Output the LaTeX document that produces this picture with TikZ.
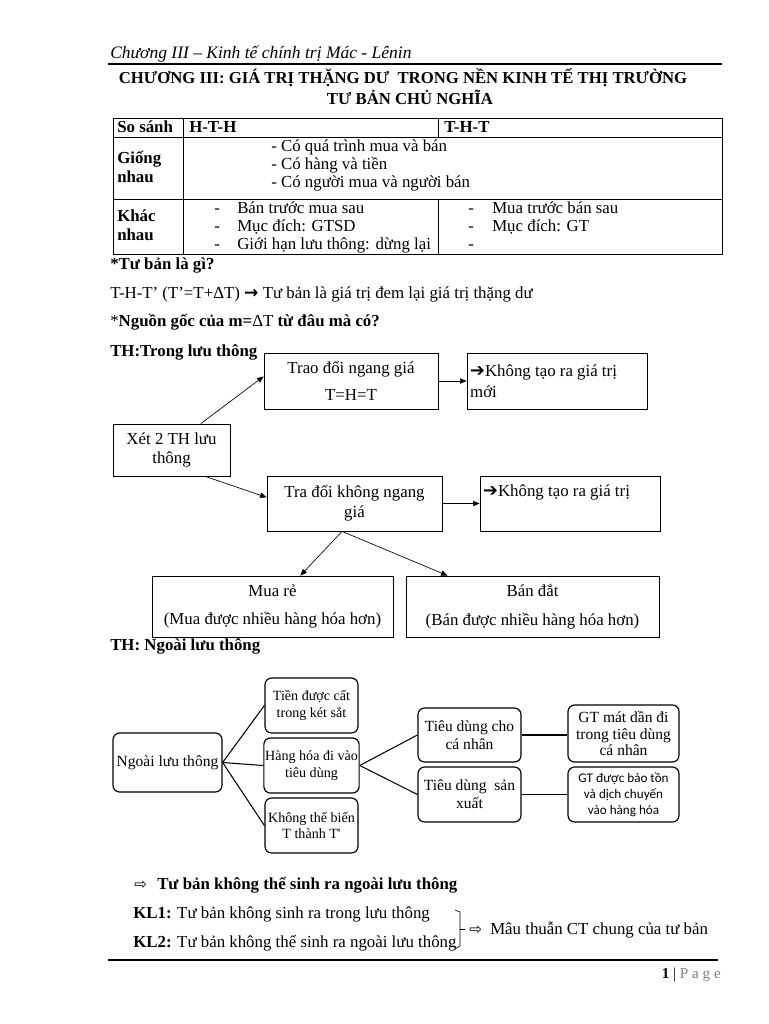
\documentclass[tikz,border=0pt]{standalone}
\usepackage{fontspec}
\setmainfont{Liberation Serif}
\newfontfamily\symfont{DejaVu Sans}
\newfontfamily\calfont{Carlito}
\usetikzlibrary{arrows.meta}
\newcommand\bodyfont{\fontsize{12.8}{15}\selectfont}

\begin{document}
\begin{tikzpicture}[x=0.76pt,y=-0.76pt,>={Triangle[length=5pt,width=4pt]},
  txt/.style={anchor=base west,inner sep=0pt,font=\bodyfont},
  btxt/.style={txt,font=\bodyfont\bfseries},
  bx/.style 2 args={draw,line width=0.6pt,inner sep=2pt,
    minimum width=#1*0.76pt,minimum height=#2*0.76pt,font=\bodyfont},
  rbx/.style 2 args={draw,line width=0.9pt,rounded corners=5pt,inner sep=1pt,
    minimum width=#1*0.76pt,minimum height=#2*0.76pt,align=center,
    font=\fontsize{11.8}{13.5}\selectfont},
  small/.style={font=\fontsize{10.7}{12.4}\selectfont},
  arr/.style={->,line width=0.5pt},
  lnk/.style={line width=0.8pt}]
  \useasboundingbox[fill=white] (0,0) rectangle (768,1024);

  % header
  \node[txt,font=\fontsize{13.3}{15}\selectfont\itshape] (chuong) at (110,58)
    {Chương III – Kinh tế chính trị Mác - Lênin};
  \draw[line width=1pt] (108,64) -- (722,64);
  \node[anchor=base,inner sep=0pt,font=\fontsize{12.7}{15}\selectfont\bfseries] (tieude1) at (403,83)
    {CHƯƠNG III: GIÁ TRỊ THẶNG DƯ\ \ TRONG NỀN KINH TẾ THỊ TRƯỜNG};
  \node[anchor=base,inner sep=0pt,font=\fontsize{12.7}{15}\selectfont\bfseries] (tieude2) at (410,104)
    {TƯ BẢN CHỦ NGHĨA};

  % bang so sanh
  \draw[line width=0.6pt] (113,118) rectangle (722,254);
  \draw[line width=0.6pt] (113,137) -- (722,137) (113,199) -- (722,199)
    (183,118) -- (183,254) (438,118) -- (438,137) (438,199) -- (438,254);
  \node[btxt] (sosanh) at (117,132) {So sánh};
  \node[btxt] (hth) at (189,132) {H-T-H};
  \node[btxt] (tht) at (444,132) {T-H-T};
  \node[btxt] (giong1) at (117,163) {Giống};
  \node[btxt] (giong2) at (117,182) {nhau};
  \node[btxt] (khac1) at (117,221) {Khác};
  \node[btxt] (khac2) at (117,240) {nhau};
  \foreach \y/\t [count=\i] in {151/Có quá trình mua và bán,169/Có hàng và tiền,187/Có người mua và người bán}
    \node[txt] (gn\i) at (271,\y) {- \t};
  \foreach \y/\a/\b [count=\i] in {213/Bán trước mua sau/Mua trước bán sau,
      231/Mục đích: GTSD/Mục đích: GT,249/Giới hạn lưu thông: dừng lại/{}}{
    \node[txt] (dl\i) at (214,\y) {-};
    \node[txt] (hl\i) at (237,\y) {\a};
    \node[txt] (dr\i) at (468,\y) {-};
    \node[txt] (hr\i) at (492,\y) {\b};
  }

  % cac dong chu
  \node[btxt] (tbla) at (110,269) {*Tư bản là gì?};
  \node[txt] (tht2) at (110,298)
    {T-H-T’ (T’=T+ΔT) {\symfont\bfseries\fontsize{13}{14}\selectfont →} Tư bản là giá trị đem lại giá trị thặng dư};
  \node[txt] (nguon) at (110,326) {*\textbf{Nguồn gốc của m=}ΔT\textbf{ từ đâu mà có?}};
  \node[btxt] (thtrong) at (110,356) {TH:Trong lưu thông};

  % so do trong luu thong
  \node[bx={174}{56},align=center] (trao) at (351,381) {Trao đổi ngang giá\\[6pt]T=H=T};
  \node[bx={180}{56},align=flush left,text width=132pt] (khong1) at (557,381)
    {{\symfont\bfseries\fontsize{13.5}{12}\selectfont ➔}Không tạo ra giá trị\\[1pt]mới};
  \node[bx={117}{52},align=center] (xet) at (171.5,450) {Xét 2 TH lưu\\thông};
  \node[bx={175}{55},align=center] (tradoi) at (354.5,503.5) {Tra đổi không ngang\\giá};
  \node[bx={180}{55},align=flush left,text width=132pt] (khong2) at (570,503.5)
    {{\symfont\bfseries\fontsize{13.5}{12}\selectfont ➔}Không tạo ra giá trị\\ \strut};
  \node[bx={241}{61},align=center] (muare) at (272.5,606.5)
    {Mua rẻ\\[7pt](Mua được nhiều hàng hóa hơn)};
  \node[bx={253}{61},align=center] (bandat) at (532.5,606.5)
    {Bán đắt\\[7pt](Bán được nhiều hàng hóa hơn)};
  \draw[arr] (xet.42) -- (trao.177);
  \draw[arr] (trao) -- (khong1);
  \draw[arr] (xet.-38) -- (tradoi.176);
  \draw[arr] (tradoi) -- (khong2);
  \draw[arr] (tradoi.-114) -- (muare.48);
  \draw[arr] (tradoi.-114) -- (bandat.160);

  \node[btxt] (thngoai) at (110,650) {TH: Ngoài lưu thông};

  % so do ngoai luu thong
  \node[rbx={109}{59}] (ngoai) at (167.5,762.5) {Ngoài lưu thông};
  \node[rbx={93}{55},small] (tien) at (311.5,705.5) {Tiền được cất\\trong két sắt};
  \node[rbx={93}{55},small] (hang) at (311.5,765.5) {Hàng hóa đi vào\\tiêu dùng};
  \node[rbx={93}{55},small] (khongthe) at (311.5,825.5) {Không thể biến\\T thành T\textquotesingle};
  \node[rbx={103}{54}] (tdcn) at (469.5,735) {Tiêu dùng cho\\cá nhân};
  \node[rbx={103}{55}] (tdsx) at (469.5,794.5) {Tiêu dùng\ \ sản\\xuất};
  \node[rbx={111}{57},font=\fontsize{11.8}{12.3}\selectfont] (gt1) at (623.5,733.5)
    {GT mát dần đi\\trong tiêu dùng\\cá nhân};
  \node[rbx={111}{55},font=\calfont\fontsize{10}{12}\selectfont] (gt2) at (623.5,794.5)
    {GT được bảo tồn\\và dịch chuyến\\vào hàng hóa};
  \foreach \n in {tien,hang,khongthe}
    \draw[lnk] (ngoai.east) -- (\n.west);
  \foreach \n in {tdcn,tdsx}
    \draw[lnk] (hang.east) -- (\n.west);
  \draw[lnk] (tdcn.east) -- (tdcn.east -| gt1.west);
  \draw[lnk] (tdsx.east) -- (tdsx.east -| gt2.west);

  % ket luan
  \node[txt,font=\fontsize{11.5}{13}\selectfont\symfont] (mt1) at (134,889) {⇨};
  \node[btxt] (kl0) at (157,889) {Tư bản không thể sinh ra ngoài lưu thông};
  \node[txt] (kl1) at (133,918) {\textbf{KL1:} Tư bản không sinh ra trong lưu thông};
  \node[txt] (kl2) at (133,947) {\textbf{KL2:} Tư bản không thể sinh ra ngoài lưu thông};
  \draw[line width=0.5pt] (455,910) -- (460,912) -- (460,946) -- (455,949);
  \draw[line width=0.5pt] (460,929) -- (465,929);
  \node[txt,font=\fontsize{11.5}{13}\selectfont\symfont] (mt2) at (469,934) {⇨};
  \node[txt] (maut) at (490,934) {Mâu thuẫn CT chung của tư bản};

  % chan trang
  \draw[line width=0.9pt] (108,960) -- (718,960);
  \node[anchor=base east,inner sep=0pt,font=\fontsize{11.5}{13}\selectfont] (trang) at (721,978)
    {\textbf{1} | \textcolor{gray}{P a g e}};
\end{tikzpicture}
\end{document}
